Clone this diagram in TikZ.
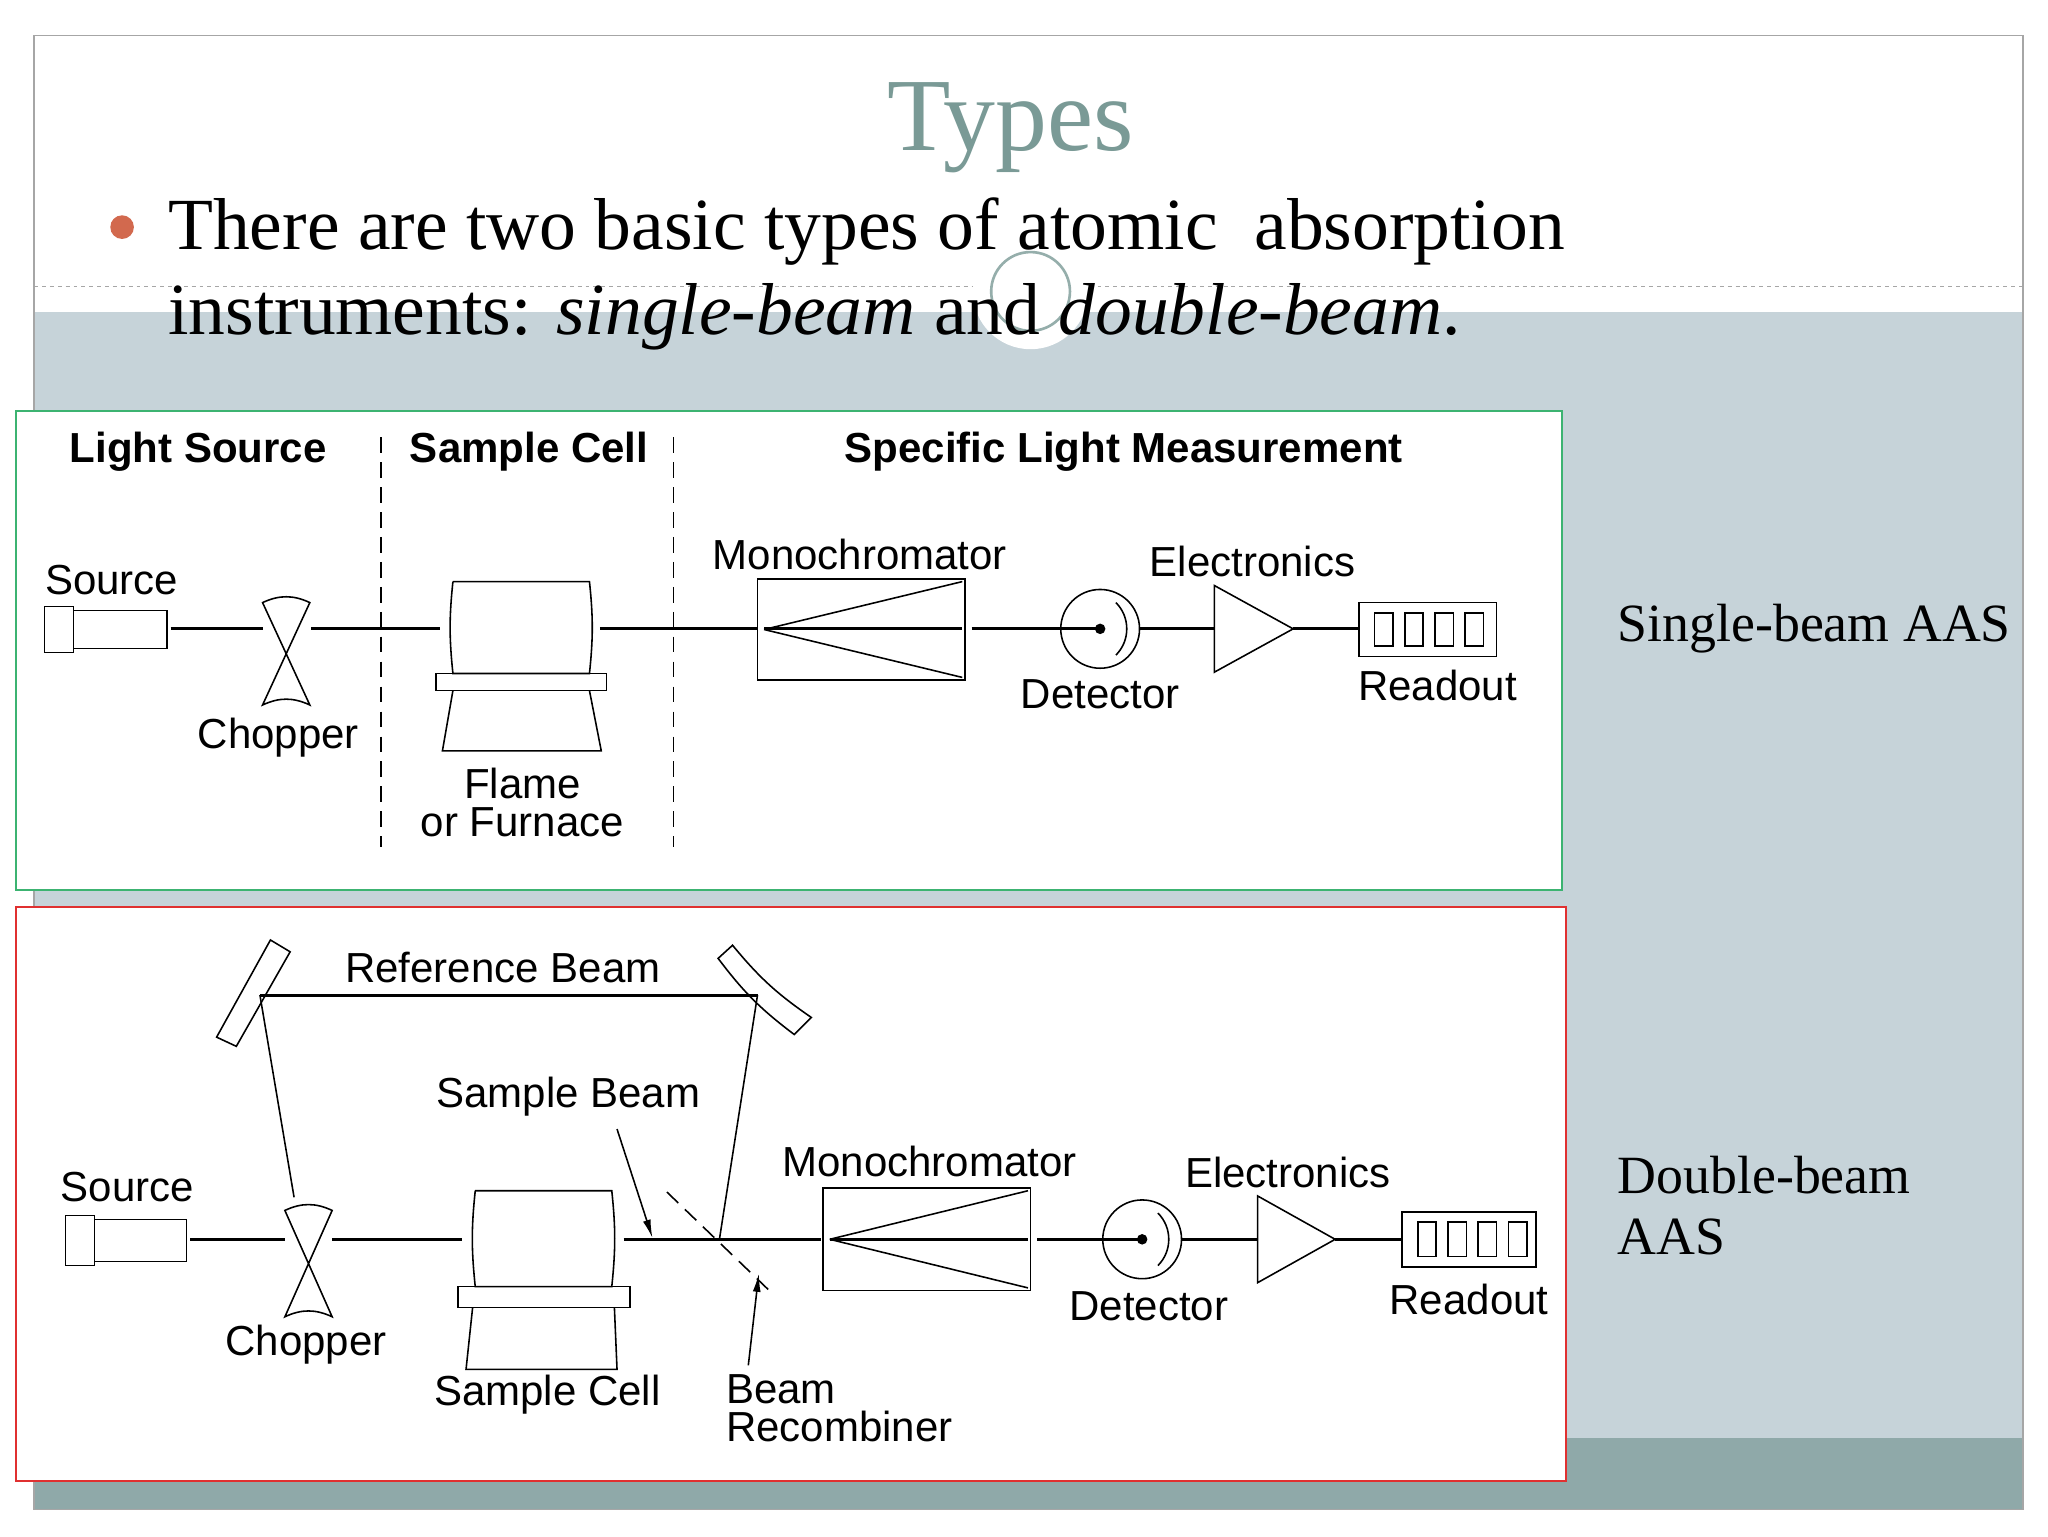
\documentclass[tikz,border=0pt]{standalone}
\usepackage{fontspec}
\setmainfont{Liberation Serif}
\newfontfamily\dsans{Liberation Sans}
\usetikzlibrary{arrows.meta}
\definecolor{slbg}{HTML}{C6D3D9}
\definecolor{slband}{HTML}{8FA9A9}
\definecolor{ttl}{HTML}{7A9A96}
\definecolor{bul}{HTML}{D2694E}
\definecolor{grn}{HTML}{3CB371}
\definecolor{rd}{HTML}{E03030}
\tikzset{
 lab/.style={font=\dsans\fontsize{32}{29}\selectfont, inner sep=0pt},
 hdr/.style={font=\dsans\bfseries\fontsize{32}{33}\selectfont, inner sep=0pt},
 side/.style={font=\fontsize{41}{46}\selectfont, inner sep=0pt, anchor=west},
 beam/.style={line width=2.2pt},
 thin/.style={line width=1.2pt},
 arr/.style={line width=1.2pt,-{Latex[length=14pt,width=6pt]}}
}
\newcommand{\mychop}[4]{%
 \draw[thin] (#1-18,#2) to[bend left=25] (#1+18,#2) -- (#1-18,#4) to[bend left=25] (#1+18,#4) -- cycle;}
\newcommand{\mydet}[2]{%
 \draw[thin] (#1,#2) circle (30);
 \fill (#1,#2) circle (4);
 \draw[thin] (#1+12,#2-20) to[bend left=45] (#1+12,#2+20);}
\newcommand{\myampl}[3]{%
 \draw[thin] (#1,#2-33) -- (#1,#2+33) -- (#3,#2) -- cycle;}
\newcommand{\myreadout}[4]{%
 \draw[thin] (#1,#2) rectangle (#3,#4);
 \foreach \i in {0,1,2,3}{\draw[thin] ({#1+12+\i*23},{#2+8}) rectangle ({#1+26+\i*23},{#4-8});}}
\newcommand{\mymono}[4]{%
 \draw[thin] (#1,#2) rectangle (#3,#4);
 \draw[thin] (#1+5,{(#2+#4)/2}) -- (#3-2,#2+2) (#1+5,{(#2+#4)/2}) -- (#3-2,#4-2);}
\begin{document}
\begin{tikzpicture}[x=1pt,y=-1pt]
\useasboundingbox (0,0) rectangle (1560,1170);
\fill[white] (0,0) rectangle (1560,1170);
\fill[slbg] (26,238) rectangle (1541,1095);
\fill[slband] (26,1095) rectangle (1541,1150);
\draw[gray!70,line width=1pt] (26,27) rectangle (1541,1150);
\draw[gray!70,dashed,line width=0.8pt] (26,218) -- (1541,218);
\fill[white] (785,222) circle (44);
\draw[ttl!80,line width=2pt] (785,222) circle (30);
\node[font=\fontsize{79}{86}\selectfont, text=ttl, inner sep=0pt] (title) at (770,97) {Types};
\fill[bul] (93,173) circle (9);
\node[anchor=base west, inner sep=0pt, font=\fontsize{56}{62}\selectfont] (l1) at (128,190) {There are two basic types of atomic\ \ absorption};
\node[anchor=base west, inner sep=0pt, font=\fontsize{56}{62}\selectfont] (l2) at (128,255) {instruments: \textit{single-beam} and \textit{double-beam}.};
\node[side] (s1) at (1232,479) {Single-beam AAS};
\node[side] (s2) at (1232,895) {Double-beam};
\node[side] (s3) at (1232,942) {AAS};
\draw[grn,fill=white,line width=1.5pt] (12,313) rectangle (1190,678);
\node[hdr] (h1) at (151,344) {Light Source};
\node[hdr] (h2) at (403,344) {Sample Cell};
\node[hdr] (h3) at (856,344) {Specific Light Measurement};
\draw[thin,dash pattern=on 12pt off 7pt] (290,333) -- (290,645);
\draw[thin,dash pattern=on 12pt off 7pt] (513,333) -- (513,645);
\draw[thin] (34,462) rectangle (56,497);
\draw[thin] (56,465) rectangle (127,494);
\node[lab] (src1) at (85,442) {Source};
\draw[beam] (130,479) -- (200,479) (237,479) -- (335,479) (457,479) -- (577,479) (582,479) -- (733,479) (740,479) -- (838,479) (868,479) -- (925,479) (985,479) -- (1035,479);
\mychop{218}{459}{497}{537}
\node[lab] (ch1) at (212,562) {Chopper};
\draw[thin] (345,443) -- (449,443) to[bend left=6] (449,513) -- (345,513) to[bend left=6] (345,443);
\draw[thin] (332,513) rectangle (462,526);
\draw[thin] (345,526) -- (337,572) -- (458,572) -- (449,526);
\node[lab,align=center] (fl) at (398,611) {Flame\\or Furnace};
\mymono{577}{441}{735}{518}
\node[lab] (mo1) at (655,422) {Monochromator};
\mydet{838}{479}
\node[lab] (de1) at (838,529) {Detector};
\myampl{925}{479}{985}
\node[lab] (el1) at (954,428) {Electronics};
\myreadout{1035}{459}{1140}{500}
\node[lab] (re1) at (1095,522) {Readout};
\draw[rd,fill=white,line width=1.5pt] (12,691) rectangle (1193,1128);
\draw[thin] (50,926) rectangle (72,964);
\draw[thin] (72,929) rectangle (142,961);
\node[lab] (src2) at (97,904) {Source};
\draw[beam] (145,944) -- (217,944) (253,944) -- (352,944) (475,944) -- (625,944) (632,944) -- (783,944) (790,944) -- (870,944) (900,944) -- (958,944) (1017,944) -- (1068,944);
\mychop{235}{922}{960}{1003}
\node[lab] (ch2) at (233,1024) {Chopper};
\draw[thin] (362,907) -- (466,907) to[bend left=6] (466,980) -- (362,980) to[bend left=6] (362,907);
\draw[thin] (349,980) rectangle (480,996);
\draw[thin] (360,996) -- (355,1043) -- (470,1043) -- (468,996);
\node[lab] (sc2) at (417,1062) {Sample Cell};
\draw[thin] (165,790) -- (206,716) -- (221,725) -- (180,797) -- cycle;
\draw[thin] (547,730) -- (558,720) to[bend right=8] (618,775) -- (605,788) to[bend left=8] cycle;
\draw[beam] (198,758) -- (577,758);
\draw[thin] (224,912) -- (198,758);
\draw[thin] (577,758) -- (548,944);
\node[lab] (rb) at (383,737) {Reference Beam};
\node[lab] (sb) at (433,835) {Sample Beam};
\draw[arr] (470,860) -- (497,943);
\draw[thin,dash pattern=on 12pt off 7pt] (508,908) -- (587,984);
\node[lab,anchor=west,align=left] (bm) at (553,1073) {Beam\\Recombiner};
\draw[arr] (570,1040) -- (578,970);
\mymono{627}{905}{785}{983}
\node[lab] (mo2) at (708,885) {Monochromator};
\mydet{870}{944}
\node[lab] (de2) at (875,995) {Detector};
\myampl{958}{944}{1017}
\node[lab] (el2) at (981,893) {Electronics};
\myreadout{1068}{923}{1170}{965}
\node[lab] (re2) at (1119,990) {Readout};
\end{tikzpicture}
\end{document}
